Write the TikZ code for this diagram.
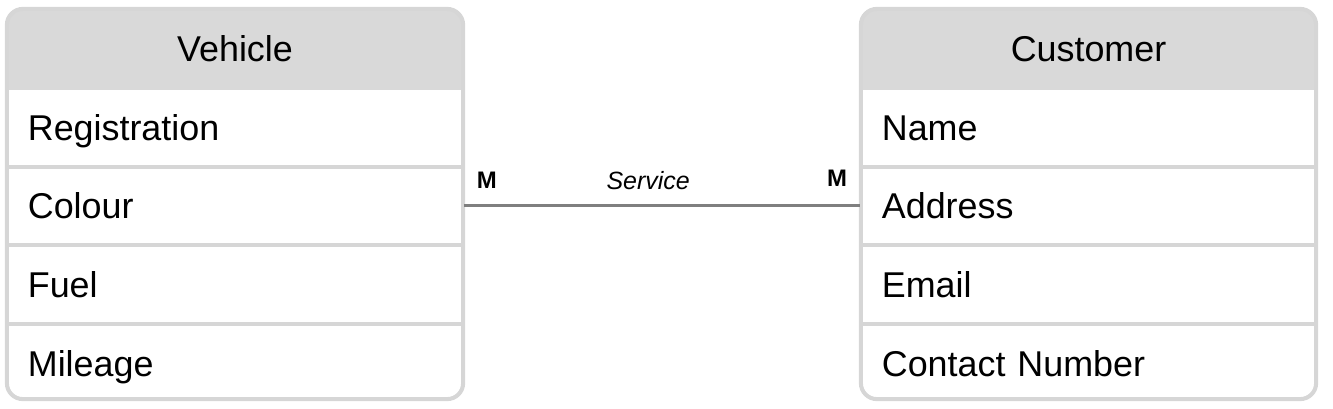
\documentclass[tikz,border=0pt]{standalone}
\usepackage{fontspec}
\setmainfont{Liberation Sans}
\usepackage{xcolor}
\usetikzlibrary{positioning}
\definecolor{framegray}{HTML}{D6D6D6}
\definecolor{headgray}{HTML}{D9D9D9}
\definecolor{linkgray}{HTML}{7F7F7F}
\tikzstyle{entity} = [rectangle, draw=framegray, line width=1.15pt, rounded corners=0.16cm, minimum height=3.9cm, inner sep=0pt, path picture={\fill[headgray, sharp corners] (path picture bounding box.north west) rectangle ([yshift=-0.81cm]path picture bounding box.north east);}]
\tikzstyle{title} = [font=\fontsize{10.2}{12}\selectfont, text=black, text height=7.3pt, text depth=0pt]
\tikzstyle{field} = [rectangle, minimum height=0.7725cm, inner xsep=0.21cm, inner ysep=0pt, text height=7.3pt, text depth=0pt, align=left, font=\fontsize{10.2}{12}\selectfont, anchor=north]
\tikzstyle{sep} = [draw=framegray, line width=1.15pt]
\tikzstyle{link} = [draw=linkgray, line width=0.85pt]
\tikzstyle{mult} = [font=\fontsize{6.8}{8}\selectfont\bfseries, text height=4.9pt, text depth=0pt, above=1.3pt]

\begin{document}
\begin{tikzpicture}[x=0.01cm, y=-0.01cm]
\useasboundingbox (0,0) rectangle (1333,409);
% the two entities
\node [entity, minimum width=4.56cm] (vehicle) at (235,204) {};
\node [entity, minimum width=4.55cm] (customer) at (1088.5,204) {};
\node [title] (vehicle-title) at ([yshift=-0.42cm]vehicle.north) {Vehicle};
\node [title] (customer-title) at ([yshift=-0.42cm]customer.north) {Customer};
% attributes of Vehicle
\node [field, text width=4.14cm] (registration) at ([yshift=-0.81cm]vehicle.north) {Registration};
\node [field, text width=4.14cm, below=0pt of registration] (colour) {Colour};
\node [field, text width=4.14cm, below=0pt of colour] (fuel) {Fuel};
\node [field, text width=4.14cm, below=0pt of fuel] (mileage) {Mileage};
% attributes of Customer
\node [field, text width=4.13cm] (name) at ([yshift=-0.81cm]customer.north) {Name};
\node [field, text width=4.13cm, below=0pt of name] (address) {Address};
\node [field, text width=4.13cm, below=0pt of address] (email) {Email};
\node [field, text width=4.13cm, below=0pt of email] (contact) {Contact Number};
\foreach \f in {registration, colour, fuel, name, address, email}
  \path [sep] (\f.south west) -- (\f.south east);
% relationship
\path [link] (colour.east) -- (address.west)
  node [mult, pos=0.058] (m-left) {M}
  node [pos=0.465, above=0.9pt, text height=5.1pt, text depth=0pt, font=\fontsize{7.1}{8}\selectfont\itshape] (service) {Service}
  node [mult, pos=0.942, yshift=0.6pt] (m-right) {M};
\end{tikzpicture}
\end{document}
